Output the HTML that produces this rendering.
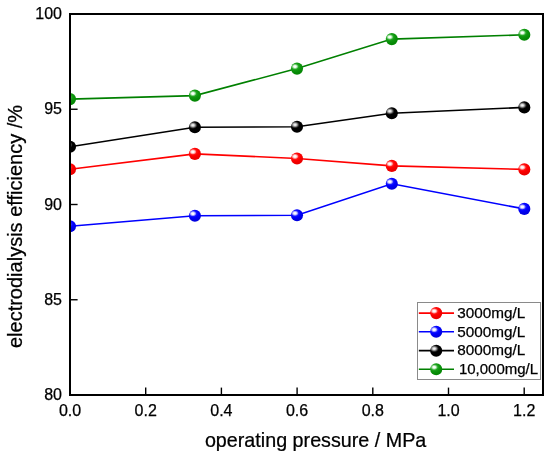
<!DOCTYPE html>
<html><head><meta charset="utf-8"><title>electrodialysis efficiency chart</title>
<style>
html,body{margin:0;padding:0;background:#fff;}
body{width:550px;height:454px;overflow:hidden;}
svg{display:block;}
text{font-family:"Liberation Sans",Arial,sans-serif;fill:#000;stroke:#000;stroke-width:0.25px;}
</style></head><body>
<svg width="550" height="454" viewBox="0 0 550 454">
<defs>
  <radialGradient id="gR" cx="0.335" cy="0.33" r="0.55" fx="0.335" fy="0.33" gradientTransform="translate(0.335 0.33) scale(1.3 1) translate(-0.335 -0.33)">
    <stop offset="0" stop-color="#ffffff"/>
    <stop offset="0.15" stop-color="#fff4f4"/>
    <stop offset="0.3" stop-color="#ff9090"/>
    <stop offset="0.42" stop-color="#ff1818"/>
    <stop offset="0.6" stop-color="#ff0000"/>
    <stop offset="1" stop-color="#ea0000"/>
  </radialGradient>
  <radialGradient id="gB" cx="0.335" cy="0.33" r="0.55" fx="0.335" fy="0.33" gradientTransform="translate(0.335 0.33) scale(1.3 1) translate(-0.335 -0.33)">
    <stop offset="0" stop-color="#ffffff"/>
    <stop offset="0.15" stop-color="#f4f4ff"/>
    <stop offset="0.3" stop-color="#9090ff"/>
    <stop offset="0.42" stop-color="#1818ff"/>
    <stop offset="0.6" stop-color="#0000ff"/>
    <stop offset="1" stop-color="#0000e0"/>
  </radialGradient>
  <radialGradient id="gK" cx="0.335" cy="0.33" r="0.55" fx="0.335" fy="0.33" gradientTransform="translate(0.335 0.33) scale(1.3 1) translate(-0.335 -0.33)">
    <stop offset="0" stop-color="#f8f8f8"/>
    <stop offset="0.14" stop-color="#e0e0e0"/>
    <stop offset="0.28" stop-color="#909090"/>
    <stop offset="0.42" stop-color="#303030"/>
    <stop offset="0.54" stop-color="#000000"/>
    <stop offset="1" stop-color="#000000"/>
  </radialGradient>
  <radialGradient id="gG" cx="0.335" cy="0.33" r="0.55" fx="0.335" fy="0.33" gradientTransform="translate(0.335 0.33) scale(1.3 1) translate(-0.335 -0.33)">
    <stop offset="0" stop-color="#ffffff"/>
    <stop offset="0.15" stop-color="#f0fff0"/>
    <stop offset="0.3" stop-color="#80d080"/>
    <stop offset="0.42" stop-color="#22a622"/>
    <stop offset="0.6" stop-color="#0e960e"/>
    <stop offset="1" stop-color="#058805"/>
  </radialGradient>
  <clipPath id="plot"><rect x="70" y="14" width="473" height="381"/></clipPath>
</defs>

<g clip-path="url(#plot)" stroke-width="1.6" fill="none">
  <polyline stroke="#008000" points="70,99.1 194.9,95.6 297,68.6 391.8,39.1 524.3,34.8"/>
  <polyline stroke="#000" points="70,146.8 194.9,127.3 297,126.8 391.8,113.2 524.3,107.4"/>
  <polyline stroke="#ff0000" points="70,169.2 194.9,153.9 297,158.5 391.8,165.9 524.3,169.4"/>
  <polyline stroke="#0000ff" points="70,226.3 194.9,215.7 297,215.3 391.8,183.8 524.3,208.9"/>
</g>
<g clip-path="url(#plot)">
  <g fill="url(#gG)">
    <circle cx="70" cy="99.1" r="6.05"/><circle cx="194.9" cy="95.6" r="6.05"/><circle cx="297" cy="68.6" r="6.05"/><circle cx="391.8" cy="39.1" r="6.05"/><circle cx="524.3" cy="34.8" r="6.05"/>
  </g>
  <g fill="url(#gK)">
    <circle cx="70" cy="146.8" r="6.05"/><circle cx="194.9" cy="127.3" r="6.05"/><circle cx="297" cy="126.8" r="6.05"/><circle cx="391.8" cy="113.2" r="6.05"/><circle cx="524.3" cy="107.4" r="6.05"/>
  </g>
  <g fill="url(#gR)">
    <circle cx="70" cy="169.2" r="6.05"/><circle cx="194.9" cy="153.9" r="6.05"/><circle cx="297" cy="158.5" r="6.05"/><circle cx="391.8" cy="165.9" r="6.05"/><circle cx="524.3" cy="169.4" r="6.05"/>
  </g>
  <g fill="url(#gB)">
    <circle cx="70" cy="226.3" r="6.05"/><circle cx="194.9" cy="215.7" r="6.05"/><circle cx="297" cy="215.3" r="6.05"/><circle cx="391.8" cy="183.8" r="6.05"/><circle cx="524.3" cy="208.9" r="6.05"/>
  </g>
</g>

<!-- axes frame -->
<rect x="70" y="14" width="473" height="381" fill="none" stroke="#000" stroke-width="2"/>
<!-- ticks -->
<g stroke="#000" stroke-width="1.4">
  <line x1="71" y1="109.25" x2="77.6" y2="109.25"/>
  <line x1="71" y1="204.5" x2="77.6" y2="204.5"/>
  <line x1="71" y1="299.75" x2="77.6" y2="299.75"/>
  <line x1="145.7" y1="394" x2="145.7" y2="387.6"/>
  <line x1="221.4" y1="394" x2="221.4" y2="387.6"/>
  <line x1="297.1" y1="394" x2="297.1" y2="387.6"/>
  <line x1="372.8" y1="394" x2="372.8" y2="387.6"/>
  <line x1="448.5" y1="394" x2="448.5" y2="387.6"/>
  <line x1="524.2" y1="394" x2="524.2" y2="387.6"/>
</g>

<!-- y tick labels -->
<g font-size="16" text-anchor="end">
  <text x="62" y="19.2">100</text>
  <text x="62" y="114.4">95</text>
  <text x="62" y="209.7">90</text>
  <text x="62" y="304.9">85</text>
  <text x="62" y="400.1">80</text>
</g>
<!-- x tick labels -->
<g font-size="16" text-anchor="middle">
  <text x="70" y="416.3">0.0</text>
  <text x="145.7" y="416.3">0.2</text>
  <text x="221.4" y="416.3">0.4</text>
  <text x="297.1" y="416.3">0.6</text>
  <text x="372.8" y="416.3">0.8</text>
  <text x="448.5" y="416.3">1.0</text>
  <text x="524.2" y="416.3">1.2</text>
</g>

<!-- axis titles -->
<text x="315.6" y="446.6" font-size="20" text-anchor="middle" transform="translate(315.6 0) scale(0.986 1) translate(-315.6 0)">operating pressure / MPa</text>
<text transform="translate(22,226.5) rotate(-90)" font-size="20" text-anchor="middle">electrodialysis efficiency /%</text>

<!-- legend -->
<rect x="417.5" y="302.5" width="123" height="77" fill="#fff" stroke="#8a8a8a" stroke-width="1"/>
<g stroke-width="1.6">
  <line x1="418.8" y1="313.1" x2="454" y2="313.1" stroke="#ff0000"/>
  <line x1="418.8" y1="331.7" x2="454" y2="331.7" stroke="#0000ff"/>
  <line x1="418.8" y1="350.6" x2="454" y2="350.6" stroke="#000"/>
  <line x1="418.8" y1="369.2" x2="454" y2="369.2" stroke="#008000"/>
</g>
<circle cx="436.2" cy="313.1" r="6.05" fill="url(#gR)"/>
<circle cx="436.2" cy="331.7" r="6.05" fill="url(#gB)"/>
<circle cx="436.2" cy="350.7" r="6.05" fill="url(#gK)"/>
<circle cx="436.2" cy="369.3" r="6.05" fill="url(#gG)"/>
<g font-size="15.3">
  <text x="457.3" y="317.8">3000mg/L</text>
  <text x="457.3" y="336.5">5000mg/L</text>
  <text x="457.3" y="355.4">8000mg/L</text>
  <text x="458.9" y="374.2" font-size="15">10,000mg/L</text>
</g>
</svg>
</body></html>
